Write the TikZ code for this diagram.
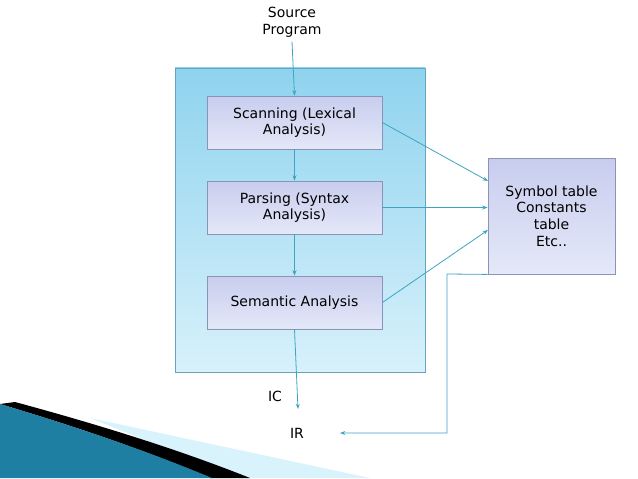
\documentclass[tikz,border=0pt]{standalone}
\usepackage{fontspec}
\setmainfont{DejaVu Sans}
\usetikzlibrary{arrows.meta}
\definecolor{arr}{HTML}{3FA3C4}
\definecolor{boxb}{HTML}{8A93B8}
\definecolor{teal1}{HTML}{1F7FA3}
\tikzset{
  stage/.style={draw=boxb, line width=0.6pt, top color={rgb,255:red,200;green,205;blue,238}, bottom color={rgb,255:red,228;green,232;blue,248}, minimum width=175*0.75pt, minimum height=53*0.75pt, align=center, font=\fontsize{10.5pt}{12.5pt}\selectfont, inner sep=2pt},
  con/.style={draw=arr, line width=0.6pt, -{Stealth[length=4pt,width=3pt]}},
  lbl/.style={align=center, font=\fontsize{10.5pt}{12.5pt}\selectfont}
}
\begin{document}
\begin{tikzpicture}[x=0.75pt,y=-0.75pt]
\useasboundingbox (0,0) rectangle (638,478);
% decoration
\fill[cyan!15!white] (90,418) -- (370,478) -- (240,478) -- cycle;
\fill[black] (15,402) .. controls (100,425) and (180,450) .. (250,478) -- (210,478) .. controls (140,448) and (70,425) .. (0,404) -- cycle;
\fill[teal1] (0,404) .. controls (70,425) and (140,448) .. (212,478) -- (0,478) -- cycle;
% container
\draw[draw=cyan!50!gray, top color={rgb,255:red,143;green,211;blue,238}, bottom color={rgb,255:red,216;green,241;blue,251}] (175,68) rectangle (425,372);
\node[stage] (s1) at (294.5,122.5) {Scanning (Lexical\\Analysis)};
\node[stage] (s2) at (294.5,207.5) {Parsing (Syntax\\Analysis)};
\node[stage] (s3) at (294.5,302.5) {Semantic Analysis};
\node[stage, minimum width=127*0.75pt, minimum height=116*0.75pt] (sym) at (551.5,216) {Symbol table\\Constants\\table\\Etc..};
\node[lbl] (src) at (292,22) {Source\\Program};
\node[lbl] (ic) at (275,396) {IC};
\node[lbl] (ir) at (297,433) {IR};
\coordinate (icend) at (298,409);
\coordinate (corner) at (447,274);
\draw[con] (src.south) -- (s1.north);
\draw[con] (s1) -- (s2);
\draw[con] (s2) -- (s3);
\draw[con] (s3.south) -- (icend);
\draw[con] (s1.east) -- (488,181);
\draw[con] (s2.east) -- (sym.west |- s2.east);
\draw[con] (s3.east) -- (488,230);
\draw[con] (sym.south west) -- (corner) |- (340,433);
\end{tikzpicture}
\end{document}
